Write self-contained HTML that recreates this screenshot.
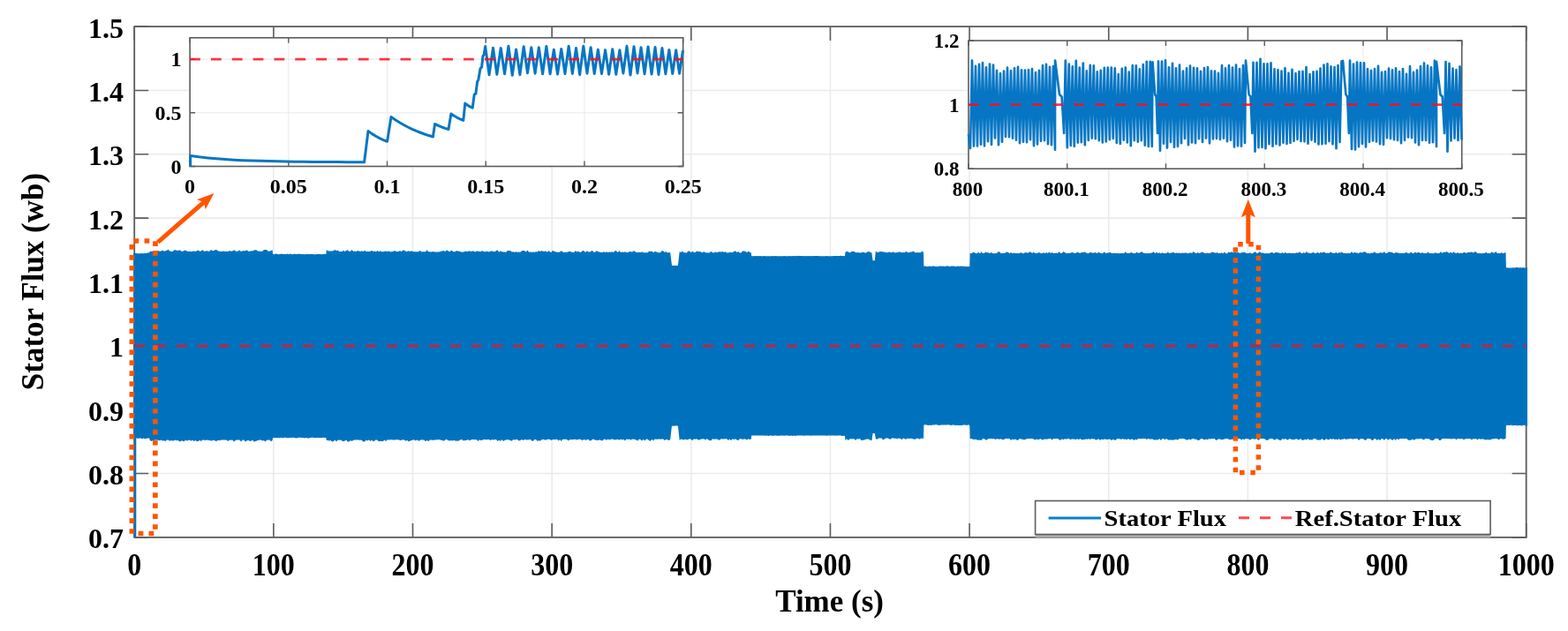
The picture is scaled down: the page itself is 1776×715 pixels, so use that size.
<!DOCTYPE html>
<html><head><meta charset="utf-8"><title>Stator Flux</title>
<style>html,body{margin:0;padding:0;background:#fff;}svg{display:block;}</style>
</head><body><svg width="1776" height="715" viewBox="0 0 1776 715"><rect x="0" y="0" width="1776" height="715" fill="#ffffff"/><path d="M309.85 30.10V608.90M467.50 30.10V608.90M625.15 30.10V608.90M782.80 30.10V608.90M940.45 30.10V608.90M1098.10 30.10V608.90M1255.75 30.10V608.90M1413.40 30.10V608.90M1571.05 30.10V608.90M152.20 536.55H1728.70M152.20 464.20H1728.70M152.20 391.85H1728.70M152.20 319.50H1728.70M152.20 247.15H1728.70M152.20 174.80H1728.70M152.20 102.45H1728.70" stroke="#ebebeb" stroke-width="1.6" fill="none"/><path d="M152.20 608.90v-16M152.20 30.10v16M309.85 608.90v-16M309.85 30.10v16M467.50 608.90v-16M467.50 30.10v16M625.15 608.90v-16M625.15 30.10v16M782.80 608.90v-16M782.80 30.10v16M940.45 608.90v-16M940.45 30.10v16M1098.10 608.90v-16M1098.10 30.10v16M1255.75 608.90v-16M1255.75 30.10v16M1413.40 608.90v-16M1413.40 30.10v16M1571.05 608.90v-16M1571.05 30.10v16M1728.70 608.90v-16M1728.70 30.10v16M152.20 608.90h16M1728.70 608.90h-16M152.20 536.55h16M1728.70 536.55h-16M152.20 464.20h16M1728.70 464.20h-16M152.20 391.85h16M1728.70 391.85h-16M152.20 319.50h16M1728.70 319.50h-16M152.20 247.15h16M1728.70 247.15h-16M152.20 174.80h16M1728.70 174.80h-16M152.20 102.45h16M1728.70 102.45h-16M152.20 30.10h16M1728.70 30.10h-16" stroke="#5c5c5c" stroke-width="1.6" fill="none"/><rect x="152.20" y="30.10" width="1576.50" height="578.80" stroke="#5c5c5c" stroke-width="1.8" fill="none"/><path d="M151.0 287.2 L152.7 286.8 L154.3 287.0 L156.0 287.3 L157.6 287.3 L159.3 287.3 L160.9 287.1 L162.6 287.3 L164.2 286.8 L165.9 286.9 L167.5 286.2 L169.2 286.4 L169.6 284.8 L171.2 284.7 L172.8 284.8 L174.4 284.0 L176.1 284.2 L177.7 284.9 L179.3 283.9 L180.9 284.7 L182.5 284.4 L184.1 283.5 L185.8 284.7 L187.4 284.3 L189.0 283.7 L190.6 282.8 L192.2 284.5 L193.8 284.8 L195.5 284.9 L197.1 283.6 L198.7 283.2 L200.3 283.8 L201.9 284.1 L203.5 283.3 L205.2 284.4 L206.8 284.9 L208.4 283.9 L210.0 283.4 L211.6 284.5 L213.2 284.9 L214.9 284.8 L216.5 284.9 L218.1 284.8 L219.7 284.5 L221.3 284.9 L222.9 284.2 L224.6 283.4 L226.2 284.7 L227.8 284.6 L229.4 282.9 L231.0 284.8 L232.6 284.8 L234.3 284.1 L235.9 284.9 L237.5 284.6 L239.1 282.9 L240.7 284.3 L242.3 283.9 L243.9 283.1 L245.6 283.2 L247.2 284.5 L248.8 284.8 L250.4 284.9 L252.0 284.8 L253.6 284.6 L255.3 284.9 L256.9 284.8 L258.5 284.9 L260.1 284.0 L261.7 284.7 L263.3 284.6 L265.0 283.3 L266.6 284.4 L268.2 284.9 L269.8 284.6 L271.4 283.4 L273.0 284.9 L274.7 284.3 L276.3 284.2 L277.9 284.3 L279.5 283.2 L281.1 284.7 L282.7 284.8 L284.4 284.2 L286.0 284.6 L287.6 283.4 L289.2 283.3 L290.8 283.4 L292.4 284.8 L294.1 284.6 L295.7 284.9 L297.3 284.7 L298.9 282.9 L300.5 282.9 L302.1 282.9 L303.8 284.8 L305.4 284.8 L307.0 284.0 L308.6 283.3 L309.0 287.8 L310.6 288.2 L312.3 287.5 L313.9 287.7 L315.5 288.2 L317.2 288.1 L318.8 287.4 L320.4 288.1 L322.1 287.8 L323.7 288.2 L325.3 287.5 L327.0 288.2 L328.6 287.4 L330.2 288.1 L331.9 288.2 L333.5 287.4 L335.1 288.0 L336.8 288.0 L338.4 287.6 L340.0 288.1 L341.6 288.1 L343.3 288.1 L344.9 288.2 L346.5 288.1 L348.2 287.9 L349.8 288.0 L351.4 288.0 L353.1 288.0 L354.7 288.0 L356.3 288.2 L358.0 288.2 L359.6 287.8 L361.2 288.1 L362.9 287.9 L364.5 288.2 L366.1 288.1 L367.8 287.7 L369.4 287.9 L369.8 283.1 L371.4 284.2 L373.0 284.4 L374.6 284.5 L376.2 284.5 L377.8 283.9 L379.4 283.1 L381.0 284.3 L382.6 283.5 L384.2 285.0 L385.8 285.0 L387.4 285.0 L389.0 283.7 L390.6 285.0 L392.2 284.1 L393.8 283.3 L395.4 285.0 L397.0 284.7 L398.6 282.9 L400.2 285.0 L401.8 284.5 L403.5 285.0 L405.1 283.9 L406.7 284.4 L408.3 285.1 L409.9 284.3 L411.5 285.1 L413.1 283.8 L414.7 285.1 L416.3 285.1 L417.9 285.0 L419.5 284.8 L421.1 283.7 L422.7 285.1 L424.3 284.4 L425.9 285.2 L427.5 284.1 L429.1 285.2 L430.7 284.3 L432.3 285.2 L433.9 285.2 L435.5 284.8 L437.1 284.5 L438.7 285.1 L440.3 284.6 L441.9 285.2 L443.5 285.2 L445.1 285.0 L446.7 284.0 L448.3 284.7 L449.9 285.0 L451.5 285.1 L453.1 284.1 L454.7 285.2 L456.3 283.4 L457.9 283.8 L459.5 284.8 L461.1 285.0 L462.7 284.3 L464.3 285.1 L465.9 284.2 L467.6 285.0 L469.2 285.3 L470.8 285.3 L472.4 285.2 L474.0 285.3 L475.6 283.7 L477.2 285.2 L478.8 285.2 L480.4 285.3 L482.0 285.2 L483.6 283.3 L485.2 285.3 L486.8 285.2 L488.4 285.4 L490.0 284.9 L491.6 285.3 L493.2 285.4 L494.8 285.4 L496.4 285.4 L498.0 285.2 L499.6 284.7 L501.2 284.2 L502.8 284.3 L504.4 285.1 L506.0 283.3 L507.6 284.3 L509.2 285.5 L510.8 283.7 L512.4 284.3 L514.0 285.4 L515.6 284.9 L517.2 284.1 L518.8 284.8 L520.4 284.5 L522.0 285.4 L523.6 285.5 L525.2 285.5 L526.8 284.8 L528.4 284.7 L530.0 285.0 L531.6 284.2 L533.3 285.0 L534.9 284.6 L536.5 284.4 L538.1 285.6 L539.7 284.4 L541.3 284.4 L542.9 285.1 L544.5 285.1 L546.1 284.3 L547.7 284.7 L549.3 285.6 L550.9 284.4 L552.5 284.9 L554.1 285.6 L555.7 284.6 L557.3 284.6 L558.9 285.1 L560.5 285.2 L562.1 283.9 L563.7 283.6 L565.3 285.7 L566.9 284.2 L568.5 285.2 L570.1 285.6 L571.7 285.6 L573.3 285.7 L574.9 283.7 L576.5 284.2 L578.1 284.0 L579.7 285.6 L581.3 285.2 L582.9 285.7 L584.5 285.3 L586.1 285.7 L587.7 285.5 L589.3 285.8 L590.9 284.2 L592.5 283.9 L594.1 284.0 L595.7 285.5 L597.4 283.6 L599.0 285.5 L600.6 285.6 L602.2 285.8 L603.8 285.6 L605.4 285.7 L607.0 285.2 L608.6 285.5 L610.2 284.1 L611.8 285.0 L613.4 283.9 L615.0 284.7 L616.6 284.7 L618.2 284.6 L619.8 285.7 L621.4 284.0 L623.0 285.4 L624.6 285.7 L626.2 283.8 L627.8 285.0 L629.4 285.2 L631.0 285.8 L632.6 285.8 L634.2 285.4 L635.8 284.1 L637.4 285.5 L639.0 285.9 L640.6 285.7 L642.2 285.8 L643.8 285.2 L645.4 284.7 L647.0 285.6 L648.6 285.7 L650.2 286.0 L651.8 283.9 L653.4 285.4 L655.0 284.4 L656.6 285.8 L658.2 285.7 L659.8 284.0 L661.4 284.3 L663.1 286.0 L664.7 284.3 L666.3 285.3 L667.9 285.7 L669.5 284.5 L671.1 284.0 L672.7 286.0 L674.3 285.5 L675.9 284.1 L677.5 285.2 L679.1 285.6 L680.7 286.1 L682.3 286.0 L683.9 285.2 L685.5 286.1 L687.1 285.2 L688.7 286.1 L690.3 285.5 L691.9 285.8 L693.5 285.3 L695.1 285.9 L696.7 284.1 L698.3 284.4 L699.9 286.0 L701.5 284.1 L703.1 286.0 L704.7 285.6 L706.3 285.8 L707.9 285.2 L709.5 286.1 L711.1 285.9 L712.7 285.2 L714.3 284.8 L715.9 285.7 L717.5 284.2 L719.1 284.7 L720.7 286.1 L722.3 286.0 L723.9 285.7 L725.5 286.1 L727.2 285.3 L728.8 286.2 L730.4 286.2 L732.0 286.2 L733.6 286.3 L735.2 284.5 L736.8 285.1 L738.4 284.4 L740.0 286.2 L741.6 285.1 L743.2 285.3 L744.8 286.0 L746.4 286.3 L748.0 286.2 L749.6 284.3 L751.2 284.3 L752.8 286.1 L754.4 284.9 L756.0 286.4 L757.6 286.1 L759.2 286.3 L761.0 300.7 L762.7 301.0 L764.5 300.8 L766.2 301.0 L767.9 300.7 L769.7 285.1 L771.3 286.1 L772.9 284.4 L774.6 286.2 L776.2 286.2 L777.8 286.4 L779.4 284.5 L781.1 284.4 L782.7 286.3 L784.3 284.4 L785.9 286.1 L787.5 286.0 L789.2 284.5 L790.8 285.0 L792.4 284.9 L794.0 285.6 L795.7 286.2 L797.3 285.1 L798.9 286.3 L800.5 286.3 L802.1 286.4 L803.8 286.2 L805.4 284.7 L807.0 286.3 L808.6 286.4 L810.2 285.3 L811.9 286.3 L813.5 285.6 L815.1 285.2 L816.7 285.5 L818.4 284.9 L820.0 285.7 L821.6 285.2 L823.2 286.3 L824.8 286.4 L826.5 285.7 L828.1 286.1 L829.7 285.9 L831.3 285.0 L833.0 284.3 L834.6 286.0 L836.2 284.9 L837.8 286.5 L839.4 286.4 L841.1 284.4 L842.7 284.6 L844.3 284.8 L845.9 286.3 L847.6 284.5 L849.2 285.7 L850.8 286.4 L851.2 290.3 L852.8 290.2 L854.4 290.1 L856.0 290.3 L857.6 290.0 L859.2 290.2 L860.8 290.0 L862.4 290.3 L864.0 290.2 L865.6 290.1 L867.2 290.3 L868.8 290.2 L870.4 290.2 L872.0 290.2 L873.6 290.2 L875.2 289.9 L876.8 290.2 L878.5 290.0 L880.1 290.3 L881.7 290.2 L883.3 290.2 L884.9 290.2 L886.5 290.3 L888.1 290.1 L889.7 290.3 L891.3 290.2 L892.9 290.3 L894.5 290.1 L896.1 290.3 L897.7 290.0 L899.3 290.3 L900.9 289.8 L902.5 290.2 L904.1 289.8 L905.7 289.9 L907.3 289.9 L908.9 290.0 L910.5 290.2 L912.1 289.9 L913.7 290.3 L915.3 290.1 L916.9 290.3 L918.5 290.0 L920.1 290.3 L921.7 290.0 L923.3 289.9 L924.9 290.1 L926.5 290.1 L928.1 290.2 L929.7 290.2 L931.4 290.2 L933.0 290.3 L934.6 290.2 L936.2 290.0 L937.8 290.2 L939.4 290.2 L941.0 290.3 L942.6 290.3 L944.2 290.1 L945.8 290.1 L947.4 290.0 L949.0 290.1 L950.6 290.1 L952.2 289.8 L953.8 289.9 L955.4 290.0 L957.0 290.3 L957.4 285.9 L959.1 284.7 L960.7 285.2 L962.4 286.4 L964.1 285.3 L965.7 284.8 L967.4 285.1 L969.1 285.9 L970.7 286.3 L972.4 285.9 L974.1 286.4 L975.7 286.3 L977.4 285.5 L979.1 286.3 L980.7 286.4 L982.4 285.6 L984.1 284.9 L985.7 285.7 L987.4 286.4 L988.6 295.3 L990.8 295.2 L991.9 284.2 L993.5 285.9 L995.2 285.8 L996.8 285.1 L998.5 284.9 L1000.1 285.4 L1001.7 285.5 L1003.4 286.0 L1005.0 286.2 L1006.7 285.4 L1008.3 285.7 L1009.9 286.2 L1011.6 285.3 L1013.2 286.2 L1014.9 286.2 L1016.5 286.1 L1018.1 285.5 L1019.8 285.4 L1021.4 286.2 L1023.0 286.1 L1024.7 286.2 L1026.3 284.7 L1028.0 285.9 L1029.6 286.2 L1031.2 285.6 L1032.9 285.4 L1034.5 284.4 L1036.2 286.1 L1037.8 286.2 L1039.4 285.9 L1041.1 286.2 L1042.7 286.2 L1044.4 284.4 L1046.0 286.1 L1046.4 301.8 L1048.0 301.5 L1049.6 301.9 L1051.3 302.0 L1052.9 301.5 L1054.5 302.0 L1056.1 301.5 L1057.8 301.5 L1059.4 301.9 L1061.0 301.9 L1062.6 301.9 L1064.2 301.6 L1065.9 301.6 L1067.5 301.7 L1069.1 301.5 L1070.7 301.9 L1072.3 301.2 L1074.0 301.4 L1075.6 301.9 L1077.2 301.5 L1078.8 301.5 L1080.5 301.4 L1082.1 301.9 L1083.7 301.7 L1085.3 301.6 L1086.9 301.8 L1088.6 301.6 L1090.2 301.8 L1091.8 301.7 L1093.4 301.9 L1095.1 302.0 L1096.7 302.0 L1098.3 302.0 L1098.7 286.9 L1100.3 287.2 L1101.9 286.1 L1103.5 286.1 L1105.1 287.2 L1106.7 286.9 L1108.3 285.7 L1109.9 287.2 L1111.5 285.3 L1113.1 287.1 L1114.7 287.1 L1116.3 285.6 L1117.9 286.3 L1119.5 286.3 L1121.1 287.1 L1122.7 285.9 L1124.3 286.9 L1125.9 287.2 L1127.5 287.0 L1129.1 286.9 L1130.7 285.1 L1132.3 285.6 L1133.9 287.2 L1135.5 286.8 L1137.1 286.9 L1138.7 286.5 L1140.3 285.5 L1141.9 285.7 L1143.5 287.2 L1145.1 285.9 L1146.7 287.2 L1148.3 286.6 L1149.9 287.1 L1151.5 286.9 L1153.1 287.0 L1154.7 287.0 L1156.3 286.1 L1157.9 287.1 L1159.5 287.2 L1161.1 286.1 L1162.7 286.3 L1164.3 286.8 L1165.9 285.4 L1167.5 285.4 L1169.1 287.1 L1170.7 285.4 L1172.3 286.9 L1173.9 287.0 L1175.6 286.5 L1177.2 285.9 L1178.8 286.9 L1180.4 287.1 L1182.0 286.2 L1183.6 287.1 L1185.2 285.9 L1186.8 287.1 L1188.4 285.4 L1190.0 287.1 L1191.6 286.1 L1193.2 287.1 L1194.8 287.0 L1196.4 286.6 L1198.0 286.9 L1199.6 285.1 L1201.2 287.1 L1202.8 287.1 L1204.4 285.0 L1206.0 286.0 L1207.6 287.1 L1209.2 287.1 L1210.8 286.8 L1212.4 286.8 L1214.0 286.1 L1215.6 286.3 L1217.2 287.1 L1218.8 286.8 L1220.4 285.4 L1222.0 286.4 L1223.6 286.8 L1225.2 286.0 L1226.8 285.9 L1228.4 285.6 L1230.0 286.3 L1231.6 287.0 L1233.2 287.1 L1234.8 285.8 L1236.4 286.3 L1238.0 286.8 L1239.6 286.3 L1241.2 286.2 L1242.8 287.1 L1244.4 285.8 L1246.0 286.6 L1247.6 287.2 L1249.2 287.1 L1250.8 285.2 L1252.4 287.1 L1254.0 286.5 L1255.6 286.6 L1257.2 285.7 L1258.8 286.8 L1260.4 287.1 L1262.0 286.8 L1263.6 287.1 L1265.2 286.9 L1266.8 287.0 L1268.4 287.2 L1270.0 286.8 L1271.6 286.9 L1273.2 287.1 L1274.8 285.2 L1276.4 287.1 L1278.0 286.8 L1279.6 287.1 L1281.2 285.7 L1282.8 286.7 L1284.4 287.1 L1286.0 286.9 L1287.6 285.7 L1289.2 286.7 L1290.8 286.5 L1292.4 285.6 L1294.0 285.6 L1295.6 286.9 L1297.2 286.8 L1298.8 287.2 L1300.4 287.0 L1302.0 287.0 L1303.6 286.8 L1305.2 286.2 L1306.8 285.3 L1308.4 287.2 L1310.0 285.4 L1311.6 287.1 L1313.2 286.3 L1314.8 287.2 L1316.4 286.2 L1318.0 287.1 L1319.6 287.0 L1321.2 286.9 L1322.8 285.4 L1324.4 287.1 L1326.0 286.4 L1327.7 286.2 L1329.3 285.8 L1330.9 287.1 L1332.5 286.6 L1334.1 286.7 L1335.7 286.5 L1337.3 287.0 L1338.9 286.6 L1340.5 286.7 L1342.1 286.6 L1343.7 286.5 L1345.3 287.2 L1346.9 286.7 L1348.5 286.2 L1350.1 286.9 L1351.7 285.1 L1353.3 286.3 L1354.9 287.2 L1356.5 286.1 L1358.1 286.9 L1359.7 286.6 L1361.3 285.4 L1362.9 286.0 L1364.5 286.9 L1366.1 286.9 L1367.7 286.6 L1369.3 287.1 L1370.9 286.8 L1372.5 285.7 L1374.1 285.7 L1375.7 286.6 L1377.3 286.6 L1378.9 286.2 L1380.5 286.9 L1382.1 287.0 L1383.7 286.3 L1385.3 287.2 L1386.9 285.4 L1388.5 287.2 L1390.1 287.2 L1391.7 285.3 L1393.3 286.2 L1394.9 285.3 L1396.5 286.3 L1398.1 286.1 L1399.7 286.1 L1401.3 286.2 L1402.9 285.9 L1404.5 287.1 L1406.1 285.9 L1407.7 286.2 L1409.3 285.7 L1410.9 286.5 L1412.5 287.0 L1414.1 286.9 L1415.7 286.3 L1417.3 287.2 L1418.9 287.2 L1420.5 285.7 L1422.1 285.3 L1423.7 287.2 L1425.3 286.4 L1426.9 285.1 L1428.5 286.8 L1430.1 286.3 L1431.7 287.1 L1433.3 287.2 L1434.9 287.1 L1436.5 287.2 L1438.1 287.1 L1439.7 286.0 L1441.3 286.0 L1442.9 287.2 L1444.5 286.0 L1446.1 286.0 L1447.7 286.3 L1449.3 286.7 L1450.9 287.0 L1452.5 286.0 L1454.1 287.2 L1455.7 285.7 L1457.3 287.0 L1458.9 287.1 L1460.5 286.6 L1462.1 286.9 L1463.7 286.7 L1465.3 287.1 L1466.9 286.9 L1468.5 286.3 L1470.1 286.8 L1471.7 285.2 L1473.3 286.5 L1474.9 287.2 L1476.5 286.1 L1478.2 286.9 L1479.8 285.1 L1481.4 286.4 L1483.0 286.8 L1484.6 286.9 L1486.2 286.4 L1487.8 285.7 L1489.4 287.2 L1491.0 286.8 L1492.6 285.7 L1494.2 287.2 L1495.8 285.7 L1497.4 286.5 L1499.0 285.6 L1500.6 286.1 L1502.2 286.9 L1503.8 286.5 L1505.4 287.1 L1507.0 285.3 L1508.6 286.4 L1510.2 286.7 L1511.8 287.0 L1513.4 285.8 L1515.0 287.2 L1516.6 285.9 L1518.2 286.4 L1519.8 285.4 L1521.4 286.7 L1523.0 287.1 L1524.6 287.1 L1526.2 286.9 L1527.8 286.8 L1529.4 287.1 L1531.0 285.0 L1532.6 287.1 L1534.2 285.8 L1535.8 286.4 L1537.4 286.6 L1539.0 287.2 L1540.6 285.5 L1542.2 286.5 L1543.8 285.8 L1545.4 285.2 L1547.0 285.7 L1548.6 287.0 L1550.2 287.1 L1551.8 287.2 L1553.4 286.5 L1555.0 286.7 L1556.6 285.3 L1558.2 286.4 L1559.8 287.1 L1561.4 287.0 L1563.0 286.3 L1564.6 286.2 L1566.2 286.7 L1567.8 285.1 L1569.4 287.1 L1571.0 287.0 L1572.6 285.4 L1574.2 285.6 L1575.8 285.8 L1577.4 286.2 L1579.0 287.2 L1580.6 285.9 L1582.2 286.2 L1583.8 286.4 L1585.4 287.1 L1587.0 287.0 L1588.6 286.7 L1590.2 287.0 L1591.8 286.2 L1593.4 286.0 L1595.0 287.2 L1596.6 287.1 L1598.2 285.5 L1599.8 287.1 L1601.4 287.1 L1603.0 285.6 L1604.6 286.7 L1606.2 285.7 L1607.8 286.3 L1609.4 287.1 L1611.0 286.0 L1612.6 287.1 L1614.2 287.0 L1615.8 287.1 L1617.4 285.6 L1619.0 287.1 L1620.6 286.9 L1622.2 287.1 L1623.8 287.2 L1625.4 286.2 L1627.0 286.7 L1628.6 287.0 L1630.3 286.9 L1631.9 285.0 L1633.5 287.1 L1635.1 285.4 L1636.7 286.0 L1638.3 285.1 L1639.9 285.7 L1641.5 287.1 L1643.1 285.6 L1644.7 287.1 L1646.3 285.3 L1647.9 286.5 L1649.5 287.1 L1651.1 286.1 L1652.7 287.2 L1654.3 286.4 L1655.9 287.0 L1657.5 286.3 L1659.1 285.7 L1660.7 287.1 L1662.3 286.0 L1663.9 286.0 L1665.5 285.7 L1667.1 285.6 L1668.7 286.6 L1670.3 285.3 L1671.9 285.5 L1673.5 287.1 L1675.1 286.9 L1676.7 286.9 L1678.3 287.2 L1679.9 286.7 L1681.5 287.1 L1683.1 285.7 L1684.7 286.9 L1686.3 286.8 L1687.9 287.2 L1689.5 285.2 L1691.1 286.6 L1692.7 286.5 L1694.3 285.1 L1695.9 287.1 L1697.5 287.0 L1699.1 287.2 L1700.7 286.1 L1702.3 287.2 L1703.9 286.4 L1705.5 286.1 L1705.9 303.0 L1707.5 303.6 L1709.1 303.4 L1710.7 303.5 L1712.3 303.4 L1713.9 303.3 L1715.5 303.6 L1717.1 303.1 L1718.8 303.0 L1720.4 303.5 L1722.0 303.0 L1723.6 303.5 L1725.2 303.1 L1726.8 303.5 L1728.4 303.4 L1730.0 303.1 L1730.0 482.4 L1728.4 482.5 L1726.8 481.8 L1725.2 481.8 L1723.6 482.4 L1722.0 481.9 L1720.4 481.9 L1718.8 482.4 L1717.1 481.7 L1715.5 482.0 L1713.9 482.3 L1712.3 481.7 L1710.7 481.7 L1709.1 481.9 L1707.5 481.7 L1705.9 482.1 L1705.5 497.0 L1703.9 497.5 L1702.3 497.7 L1700.7 497.0 L1699.1 497.0 L1697.5 498.4 L1695.9 497.0 L1694.3 497.0 L1692.7 496.9 L1691.1 497.5 L1689.5 497.5 L1687.9 498.6 L1686.3 498.2 L1684.7 498.0 L1683.1 498.6 L1681.5 498.1 L1679.9 497.5 L1678.3 497.5 L1676.7 497.7 L1675.1 497.0 L1673.5 498.5 L1671.9 497.1 L1670.3 497.4 L1668.7 496.9 L1667.1 498.6 L1665.5 497.2 L1663.9 496.9 L1662.3 497.3 L1660.7 496.9 L1659.1 497.7 L1657.5 498.0 L1655.9 497.0 L1654.3 497.5 L1652.7 496.9 L1651.1 497.0 L1649.5 498.2 L1647.9 497.0 L1646.3 497.0 L1644.7 497.3 L1643.1 497.5 L1641.5 496.9 L1639.9 497.2 L1638.3 496.9 L1636.7 497.1 L1635.1 496.9 L1633.5 497.1 L1631.9 498.8 L1630.3 499.1 L1628.6 497.0 L1627.0 497.1 L1625.4 497.0 L1623.8 498.7 L1622.2 499.0 L1620.6 498.7 L1619.0 497.5 L1617.4 497.2 L1615.8 497.1 L1614.2 497.3 L1612.6 498.6 L1611.0 497.6 L1609.4 496.9 L1607.8 497.0 L1606.2 497.4 L1604.6 497.2 L1603.0 497.8 L1601.4 498.8 L1599.8 497.4 L1598.2 498.7 L1596.6 498.8 L1595.0 498.8 L1593.4 497.0 L1591.8 496.9 L1590.2 497.0 L1588.6 497.0 L1587.0 497.0 L1585.4 497.2 L1583.8 498.2 L1582.2 497.1 L1580.6 498.9 L1579.0 497.0 L1577.4 499.1 L1575.8 498.0 L1574.2 496.9 L1572.6 498.7 L1571.0 497.2 L1569.4 496.9 L1567.8 499.1 L1566.2 497.0 L1564.6 497.3 L1563.0 498.9 L1561.4 497.6 L1559.8 499.0 L1558.2 497.3 L1556.6 496.9 L1555.0 498.9 L1553.4 498.6 L1551.8 496.9 L1550.2 497.0 L1548.6 496.9 L1547.0 499.0 L1545.4 498.2 L1543.8 497.3 L1542.2 497.1 L1540.6 497.5 L1539.0 499.1 L1537.4 496.9 L1535.8 497.2 L1534.2 497.0 L1532.6 497.8 L1531.0 497.2 L1529.4 496.9 L1527.8 497.5 L1526.2 497.6 L1524.6 498.0 L1523.0 497.0 L1521.4 497.7 L1519.8 497.5 L1518.2 498.7 L1516.6 497.0 L1515.0 498.4 L1513.4 497.4 L1511.8 498.2 L1510.2 497.0 L1508.6 497.9 L1507.0 497.1 L1505.4 498.2 L1503.8 498.3 L1502.2 496.9 L1500.6 498.8 L1499.0 498.4 L1497.4 497.1 L1495.8 498.6 L1494.2 498.5 L1492.6 498.7 L1491.0 497.7 L1489.4 497.1 L1487.8 497.1 L1486.2 498.7 L1484.6 498.0 L1483.0 498.7 L1481.4 497.1 L1479.8 498.5 L1478.2 497.7 L1476.5 498.4 L1474.9 499.0 L1473.3 497.1 L1471.7 498.3 L1470.1 498.3 L1468.5 497.3 L1466.9 497.8 L1465.3 498.3 L1463.7 497.9 L1462.1 497.7 L1460.5 496.9 L1458.9 498.6 L1457.3 498.1 L1455.7 496.9 L1454.1 497.9 L1452.5 496.9 L1450.9 499.0 L1449.3 498.8 L1447.7 498.0 L1446.1 496.9 L1444.5 498.5 L1442.9 498.2 L1441.3 497.0 L1439.7 497.1 L1438.1 496.9 L1436.5 498.6 L1434.9 499.0 L1433.3 498.0 L1431.7 496.9 L1430.1 497.0 L1428.5 497.0 L1426.9 497.4 L1425.3 498.9 L1423.7 497.3 L1422.1 497.4 L1420.5 497.7 L1418.9 497.0 L1417.3 497.6 L1415.7 498.8 L1414.1 497.3 L1412.5 497.3 L1410.9 497.1 L1409.3 498.3 L1407.7 497.2 L1406.1 498.8 L1404.5 496.9 L1402.9 497.0 L1401.3 497.4 L1399.7 497.0 L1398.1 497.7 L1396.5 497.8 L1394.9 497.8 L1393.3 498.3 L1391.7 497.7 L1390.1 497.0 L1388.5 497.1 L1386.9 497.6 L1385.3 498.1 L1383.7 498.3 L1382.1 497.7 L1380.5 497.2 L1378.9 498.3 L1377.3 499.0 L1375.7 497.1 L1374.1 497.3 L1372.5 497.1 L1370.9 497.6 L1369.3 497.3 L1367.7 498.2 L1366.1 497.4 L1364.5 498.6 L1362.9 497.8 L1361.3 496.9 L1359.7 497.4 L1358.1 499.1 L1356.5 498.8 L1354.9 497.7 L1353.3 497.8 L1351.7 496.9 L1350.1 497.3 L1348.5 498.5 L1346.9 497.6 L1345.3 498.5 L1343.7 498.6 L1342.1 497.5 L1340.5 497.0 L1338.9 496.9 L1337.3 497.0 L1335.7 497.1 L1334.1 498.6 L1332.5 498.1 L1330.9 498.0 L1329.3 498.5 L1327.7 498.7 L1326.0 498.3 L1324.4 498.7 L1322.8 498.3 L1321.2 497.0 L1319.6 498.3 L1318.0 497.0 L1316.4 497.1 L1314.8 498.9 L1313.2 496.9 L1311.6 498.5 L1310.0 498.3 L1308.4 498.4 L1306.8 498.5 L1305.2 497.2 L1303.6 497.8 L1302.0 497.4 L1300.4 497.1 L1298.8 498.1 L1297.2 497.0 L1295.6 497.1 L1294.0 497.1 L1292.4 497.2 L1290.8 497.0 L1289.2 497.1 L1287.6 498.4 L1286.0 497.8 L1284.4 499.0 L1282.8 497.6 L1281.2 497.8 L1279.6 498.3 L1278.0 497.0 L1276.4 498.3 L1274.8 497.5 L1273.2 498.1 L1271.6 497.1 L1270.0 498.0 L1268.4 497.3 L1266.8 497.3 L1265.2 496.9 L1263.6 499.1 L1262.0 498.2 L1260.4 498.0 L1258.8 498.9 L1257.2 497.5 L1255.6 497.8 L1254.0 498.1 L1252.4 497.7 L1250.8 497.5 L1249.2 498.3 L1247.6 497.6 L1246.0 499.0 L1244.4 497.3 L1242.8 497.9 L1241.2 498.8 L1239.6 497.3 L1238.0 497.4 L1236.4 497.1 L1234.8 498.0 L1233.2 497.3 L1231.6 497.8 L1230.0 497.4 L1228.4 497.9 L1226.8 498.0 L1225.2 498.6 L1223.6 497.0 L1222.0 498.2 L1220.4 497.3 L1218.8 498.1 L1217.2 497.7 L1215.6 497.4 L1214.0 497.5 L1212.4 498.3 L1210.8 496.9 L1209.2 497.0 L1207.6 497.8 L1206.0 497.3 L1204.4 498.3 L1202.8 497.3 L1201.2 499.0 L1199.6 498.1 L1198.0 497.0 L1196.4 497.0 L1194.8 497.2 L1193.2 497.0 L1191.6 498.5 L1190.0 497.1 L1188.4 497.1 L1186.8 497.4 L1185.2 497.7 L1183.6 497.4 L1182.0 498.1 L1180.4 498.5 L1178.8 497.2 L1177.2 497.8 L1175.6 498.2 L1173.9 497.4 L1172.3 498.6 L1170.7 497.5 L1169.1 497.1 L1167.5 496.9 L1165.9 496.9 L1164.3 497.3 L1162.7 497.2 L1161.1 498.3 L1159.5 498.3 L1157.9 497.8 L1156.3 497.5 L1154.7 497.0 L1153.1 498.9 L1151.5 498.5 L1149.9 497.5 L1148.3 498.3 L1146.7 497.5 L1145.1 499.0 L1143.5 497.0 L1141.9 497.0 L1140.3 496.9 L1138.7 497.0 L1137.1 498.0 L1135.5 498.2 L1133.9 497.3 L1132.3 497.8 L1130.7 497.5 L1129.1 497.2 L1127.5 498.1 L1125.9 497.1 L1124.3 497.3 L1122.7 497.0 L1121.1 497.0 L1119.5 497.1 L1117.9 498.4 L1116.3 498.4 L1114.7 496.9 L1113.1 497.0 L1111.5 498.9 L1109.9 498.6 L1108.3 498.7 L1106.7 498.4 L1105.1 497.7 L1103.5 498.1 L1101.9 497.8 L1100.3 496.9 L1098.7 497.0 L1098.3 482.0 L1096.7 481.3 L1095.1 482.0 L1093.4 481.6 L1091.8 481.4 L1090.2 481.7 L1088.6 481.9 L1086.9 481.9 L1085.3 482.1 L1083.7 481.7 L1082.1 482.0 L1080.5 481.4 L1078.8 481.4 L1077.2 482.0 L1075.6 481.4 L1074.0 481.3 L1072.3 481.4 L1070.7 481.6 L1069.1 481.5 L1067.5 481.5 L1065.9 481.4 L1064.2 481.9 L1062.6 481.8 L1061.0 481.3 L1059.4 481.3 L1057.8 481.5 L1056.1 481.5 L1054.5 481.9 L1052.9 481.7 L1051.3 482.0 L1049.6 481.4 L1048.0 481.3 L1046.4 481.6 L1046.0 497.2 L1044.4 496.5 L1042.7 497.1 L1041.1 497.7 L1039.4 496.6 L1037.8 497.1 L1036.2 498.1 L1034.5 497.6 L1032.9 496.9 L1031.2 496.7 L1029.6 497.3 L1028.0 496.6 L1026.3 497.7 L1024.7 497.3 L1023.0 496.5 L1021.4 498.3 L1019.8 497.0 L1018.1 496.6 L1016.5 497.2 L1014.9 496.8 L1013.2 496.8 L1011.6 496.5 L1009.9 496.6 L1008.3 498.1 L1006.7 496.9 L1005.0 496.5 L1003.4 496.5 L1001.7 497.4 L1000.1 498.4 L998.5 496.6 L996.8 496.5 L995.2 496.6 L993.5 497.7 L991.9 497.2 L990.8 490.9 L988.6 490.9 L987.4 499.2 L985.7 498.8 L984.1 497.8 L982.4 497.5 L980.7 497.8 L979.1 498.4 L977.4 498.8 L975.7 499.0 L974.1 497.3 L972.4 497.4 L970.7 497.3 L969.1 498.9 L967.4 497.2 L965.7 497.4 L964.1 497.3 L962.4 497.4 L960.7 498.9 L959.1 497.3 L957.4 499.0 L957.0 493.9 L955.4 493.8 L953.8 493.9 L952.2 493.4 L950.6 493.5 L949.0 493.4 L947.4 493.7 L945.8 493.4 L944.2 493.4 L942.6 493.5 L941.0 493.5 L939.4 493.4 L937.8 493.4 L936.2 493.7 L934.6 493.5 L933.0 493.6 L931.4 493.5 L929.7 493.6 L928.1 493.6 L926.5 493.5 L924.9 493.6 L923.3 493.4 L921.7 493.4 L920.1 493.6 L918.5 493.8 L916.9 493.5 L915.3 493.5 L913.7 493.5 L912.1 493.4 L910.5 493.8 L908.9 493.4 L907.3 493.4 L905.7 493.6 L904.1 493.5 L902.5 493.4 L900.9 493.9 L899.3 493.4 L897.7 493.9 L896.1 493.5 L894.5 493.9 L892.9 493.5 L891.3 493.6 L889.7 493.6 L888.1 493.8 L886.5 493.6 L884.9 493.4 L883.3 493.8 L881.7 493.8 L880.1 493.8 L878.5 493.4 L876.8 493.4 L875.2 493.9 L873.6 493.5 L872.0 493.6 L870.4 493.9 L868.8 493.5 L867.2 493.7 L865.6 493.4 L864.0 493.6 L862.4 493.4 L860.8 493.6 L859.2 493.4 L857.6 493.4 L856.0 493.5 L854.4 493.4 L852.8 493.6 L851.2 493.4 L850.8 497.4 L849.2 498.0 L847.6 497.2 L845.9 498.5 L844.3 497.6 L842.7 497.4 L841.1 497.9 L839.4 497.2 L837.8 497.3 L836.2 499.0 L834.6 498.6 L833.0 497.2 L831.3 498.1 L829.7 497.3 L828.1 499.3 L826.5 497.4 L824.8 498.9 L823.2 497.3 L821.6 497.3 L820.0 497.5 L818.4 497.4 L816.7 497.2 L815.1 498.8 L813.5 498.2 L811.9 497.6 L810.2 497.6 L808.6 497.7 L807.0 497.2 L805.4 499.3 L803.8 499.3 L802.1 497.9 L800.5 497.2 L798.9 498.4 L797.3 497.2 L795.7 497.5 L794.0 497.4 L792.4 498.5 L790.8 498.4 L789.2 497.3 L787.5 497.7 L785.9 497.3 L784.3 499.2 L782.7 497.7 L781.1 497.2 L779.4 498.1 L777.8 498.5 L776.2 497.4 L774.6 498.4 L772.9 498.1 L771.3 497.4 L769.7 499.0 L767.9 482.5 L766.2 482.5 L764.5 482.5 L762.7 482.7 L761.0 482.5 L759.2 497.7 L757.6 499.3 L756.0 497.9 L754.4 497.9 L752.8 498.9 L751.2 497.5 L749.6 497.5 L748.0 497.7 L746.4 497.5 L744.8 497.7 L743.2 497.8 L741.6 497.5 L740.0 499.4 L738.4 497.7 L736.8 499.7 L735.2 499.2 L733.6 497.8 L732.0 497.5 L730.4 499.6 L728.8 497.8 L727.2 499.5 L725.5 497.9 L723.9 497.6 L722.3 499.5 L720.7 498.8 L719.1 497.7 L717.5 497.8 L715.9 497.6 L714.3 498.7 L712.7 497.6 L711.1 497.9 L709.5 497.6 L707.9 499.4 L706.3 497.7 L704.7 498.6 L703.1 497.6 L701.5 498.7 L699.9 497.7 L698.3 498.1 L696.7 498.5 L695.1 498.1 L693.5 497.6 L691.9 497.7 L690.3 498.4 L688.7 497.6 L687.1 498.7 L685.5 497.8 L683.9 497.8 L682.3 499.5 L680.7 499.0 L679.1 498.3 L677.5 498.9 L675.9 498.8 L674.3 498.7 L672.7 497.7 L671.1 497.8 L669.5 499.3 L667.9 499.6 L666.3 497.7 L664.7 498.2 L663.1 498.8 L661.4 497.7 L659.8 499.3 L658.2 498.1 L656.6 497.8 L655.0 497.8 L653.4 498.6 L651.8 497.7 L650.2 497.9 L648.6 498.0 L647.0 498.3 L645.4 498.1 L643.8 499.5 L642.2 497.9 L640.6 497.8 L639.0 497.8 L637.4 497.8 L635.8 499.9 L634.2 497.9 L632.6 499.6 L631.0 497.8 L629.4 498.1 L627.8 498.0 L626.2 497.9 L624.6 499.0 L623.0 498.0 L621.4 497.8 L619.8 497.8 L618.2 498.7 L616.6 498.2 L615.0 497.8 L613.4 498.5 L611.8 499.6 L610.2 499.3 L608.6 499.8 L607.0 497.9 L605.4 498.0 L603.8 499.8 L602.2 499.4 L600.6 497.8 L599.0 498.2 L597.4 498.6 L595.7 498.2 L594.1 498.0 L592.5 499.0 L590.9 497.9 L589.3 499.1 L587.7 499.4 L586.1 498.1 L584.5 498.1 L582.9 498.4 L581.3 497.9 L579.7 499.7 L578.1 499.0 L576.5 498.5 L574.9 497.9 L573.3 498.5 L571.7 498.7 L570.1 499.9 L568.5 498.1 L566.9 500.0 L565.3 498.4 L563.7 499.9 L562.1 498.0 L560.5 498.0 L558.9 498.4 L557.3 498.1 L555.7 499.0 L554.1 498.1 L552.5 498.0 L550.9 498.2 L549.3 498.1 L547.7 498.0 L546.1 498.8 L544.5 499.0 L542.9 498.3 L541.3 500.1 L539.7 498.1 L538.1 498.2 L536.5 498.1 L534.9 498.0 L533.3 498.6 L531.6 499.2 L530.0 498.0 L528.4 499.0 L526.8 498.9 L525.2 499.6 L523.6 498.3 L522.0 498.0 L520.4 499.1 L518.8 499.8 L517.2 499.6 L515.6 499.6 L514.0 498.7 L512.4 499.5 L510.8 498.9 L509.2 499.6 L507.6 499.0 L506.0 498.1 L504.4 498.3 L502.8 499.8 L501.2 499.0 L499.6 498.7 L498.0 498.2 L496.4 498.1 L494.8 498.5 L493.2 498.3 L491.6 498.7 L490.0 498.7 L488.4 498.4 L486.8 498.4 L485.2 500.2 L483.6 498.8 L482.0 500.2 L480.4 498.6 L478.8 498.6 L477.2 498.3 L475.6 499.1 L474.0 499.7 L472.4 498.2 L470.8 499.4 L469.2 498.2 L467.6 498.4 L465.9 499.1 L464.3 499.7 L462.7 500.3 L461.1 498.8 L459.5 499.7 L457.9 498.6 L456.3 498.2 L454.7 498.7 L453.1 498.9 L451.5 498.2 L449.9 498.2 L448.3 498.3 L446.7 498.4 L445.1 498.4 L443.5 498.3 L441.9 498.3 L440.3 498.4 L438.7 498.3 L437.1 500.1 L435.5 498.5 L433.9 499.9 L432.3 499.9 L430.7 499.7 L429.1 500.2 L427.5 498.7 L425.9 498.3 L424.3 499.4 L422.7 500.2 L421.1 498.4 L419.5 500.1 L417.9 498.3 L416.3 499.6 L414.7 498.5 L413.1 500.4 L411.5 500.5 L409.9 498.9 L408.3 498.6 L406.7 498.8 L405.1 498.3 L403.5 498.6 L401.8 498.6 L400.2 498.8 L398.6 499.9 L397.0 498.9 L395.4 500.4 L393.8 500.4 L392.2 498.4 L390.6 499.5 L389.0 500.2 L387.4 499.4 L385.8 498.5 L384.2 498.8 L382.6 498.4 L381.0 500.4 L379.4 498.6 L377.8 500.1 L376.2 500.4 L374.6 499.0 L373.0 499.5 L371.4 499.0 L369.8 498.9 L369.4 496.2 L367.8 495.9 L366.1 495.8 L364.5 496.0 L362.9 496.2 L361.2 495.9 L359.6 496.0 L358.0 495.9 L356.3 496.2 L354.7 495.7 L353.1 495.7 L351.4 495.9 L349.8 496.4 L348.2 496.4 L346.5 495.9 L344.9 496.4 L343.3 495.9 L341.6 496.0 L340.0 495.8 L338.4 495.8 L336.8 496.3 L335.1 496.4 L333.5 496.1 L331.9 495.7 L330.2 496.0 L328.6 496.1 L327.0 496.3 L325.3 496.2 L323.7 495.7 L322.1 495.7 L320.4 496.4 L318.8 495.8 L317.2 496.2 L315.5 496.2 L313.9 495.9 L312.3 496.2 L310.6 496.1 L309.0 496.2 L308.6 498.9 L307.0 500.2 L305.4 498.5 L303.8 498.5 L302.1 498.7 L300.5 500.6 L298.9 498.9 L297.3 499.5 L295.7 498.6 L294.1 498.4 L292.4 499.0 L290.8 499.6 L289.2 499.9 L287.6 500.6 L286.0 498.5 L284.4 499.8 L282.7 499.7 L281.1 498.7 L279.5 499.5 L277.9 500.5 L276.3 498.4 L274.7 498.5 L273.0 500.4 L271.4 498.5 L269.8 498.6 L268.2 498.5 L266.6 498.9 L265.0 500.6 L263.3 498.5 L261.7 498.7 L260.1 498.5 L258.5 500.1 L256.9 498.7 L255.3 498.5 L253.6 498.4 L252.0 498.5 L250.4 498.4 L248.8 499.3 L247.2 498.8 L245.6 499.8 L243.9 499.8 L242.3 498.4 L240.7 499.3 L239.1 499.5 L237.5 499.1 L235.9 498.8 L234.3 498.6 L232.6 498.9 L231.0 498.5 L229.4 498.5 L227.8 500.1 L226.2 498.8 L224.6 500.1 L222.9 500.1 L221.3 498.9 L219.7 500.1 L218.1 498.6 L216.5 499.7 L214.9 498.5 L213.2 498.9 L211.6 499.4 L210.0 498.6 L208.4 500.6 L206.8 499.5 L205.2 499.4 L203.5 500.4 L201.9 498.9 L200.3 499.2 L198.7 498.6 L197.1 499.2 L195.5 499.4 L193.8 499.0 L192.2 499.7 L190.6 498.5 L189.0 498.6 L187.4 500.1 L185.8 499.2 L184.1 499.5 L182.5 498.6 L180.9 499.2 L179.3 498.8 L177.7 498.5 L176.1 498.4 L174.4 498.7 L172.8 499.2 L171.2 499.9 L169.6 498.5 L169.2 496.6 L167.5 496.5 L165.9 496.7 L164.2 497.6 L162.6 496.5 L160.9 497.3 L159.3 496.5 L157.6 496.7 L156.0 496.8 L154.3 496.6 L152.7 496.5 L151.0 496.5Z" fill="#0072bd"/><path d="M153.00 608.90V287.19" stroke="#0072bd" stroke-width="2.6" fill="none"/><path d="M152.20 391.85H1728.70" stroke="#ff0a20" stroke-opacity="0.82" stroke-width="2.6" stroke-dasharray="11.8 12.04" fill="none"/><text x="140" y="621.30" text-anchor="end" font-family="'Liberation Serif', 'Times New Roman', serif" font-weight="bold" font-size="32">0.7</text><text x="140" y="548.95" text-anchor="end" font-family="'Liberation Serif', 'Times New Roman', serif" font-weight="bold" font-size="32">0.8</text><text x="140" y="476.60" text-anchor="end" font-family="'Liberation Serif', 'Times New Roman', serif" font-weight="bold" font-size="32">0.9</text><text x="140" y="404.25" text-anchor="end" font-family="'Liberation Serif', 'Times New Roman', serif" font-weight="bold" font-size="32">1</text><text x="140" y="331.90" text-anchor="end" font-family="'Liberation Serif', 'Times New Roman', serif" font-weight="bold" font-size="32">1.1</text><text x="140" y="259.55" text-anchor="end" font-family="'Liberation Serif', 'Times New Roman', serif" font-weight="bold" font-size="32">1.2</text><text x="140" y="187.20" text-anchor="end" font-family="'Liberation Serif', 'Times New Roman', serif" font-weight="bold" font-size="32">1.3</text><text x="140" y="114.85" text-anchor="end" font-family="'Liberation Serif', 'Times New Roman', serif" font-weight="bold" font-size="32">1.4</text><text x="140" y="42.50" text-anchor="end" font-family="'Liberation Serif', 'Times New Roman', serif" font-weight="bold" font-size="32">1.5</text><text transform="translate(152.20 651.6) scale(1 1.11)" text-anchor="middle" font-family="'Liberation Serif', 'Times New Roman', serif" font-weight="bold" font-size="32">0</text><text transform="translate(309.85 651.6) scale(1 1.11)" text-anchor="middle" font-family="'Liberation Serif', 'Times New Roman', serif" font-weight="bold" font-size="32">100</text><text transform="translate(467.50 651.6) scale(1 1.11)" text-anchor="middle" font-family="'Liberation Serif', 'Times New Roman', serif" font-weight="bold" font-size="32">200</text><text transform="translate(625.15 651.6) scale(1 1.11)" text-anchor="middle" font-family="'Liberation Serif', 'Times New Roman', serif" font-weight="bold" font-size="32">300</text><text transform="translate(782.80 651.6) scale(1 1.11)" text-anchor="middle" font-family="'Liberation Serif', 'Times New Roman', serif" font-weight="bold" font-size="32">400</text><text transform="translate(940.45 651.6) scale(1 1.11)" text-anchor="middle" font-family="'Liberation Serif', 'Times New Roman', serif" font-weight="bold" font-size="32">500</text><text transform="translate(1098.10 651.6) scale(1 1.11)" text-anchor="middle" font-family="'Liberation Serif', 'Times New Roman', serif" font-weight="bold" font-size="32">600</text><text transform="translate(1255.75 651.6) scale(1 1.11)" text-anchor="middle" font-family="'Liberation Serif', 'Times New Roman', serif" font-weight="bold" font-size="32">700</text><text transform="translate(1413.40 651.6) scale(1 1.11)" text-anchor="middle" font-family="'Liberation Serif', 'Times New Roman', serif" font-weight="bold" font-size="32">800</text><text transform="translate(1571.05 651.6) scale(1 1.11)" text-anchor="middle" font-family="'Liberation Serif', 'Times New Roman', serif" font-weight="bold" font-size="32">900</text><text transform="translate(1728.70 651.6) scale(1 1.11)" text-anchor="middle" font-family="'Liberation Serif', 'Times New Roman', serif" font-weight="bold" font-size="32">1000</text><text x="939.6" y="692.5" text-anchor="middle" font-family="'Liberation Serif', 'Times New Roman', serif" font-weight="bold" font-size="35">Time (s)</text><text transform="translate(48.6 319) rotate(-90)" x="0" y="0" text-anchor="middle" font-family="'Liberation Serif', 'Times New Roman', serif" font-weight="bold" font-size="35">Stator Flux (wb)</text><rect x="215.10" y="42.80" width="558.55" height="145.70" fill="#ffffff"/><path d="M326.81 42.80V188.50M438.52 42.80V188.50M550.23 42.80V188.50M661.94 42.80V188.50M215.10 127.79H773.65M215.10 67.08H773.65" stroke="#ebebeb" stroke-width="1.1" fill="none"/><path d="M215.10 188.50v-6M215.10 42.80v6M326.81 188.50v-6M326.81 42.80v6M438.52 188.50v-6M438.52 42.80v6M550.23 188.50v-6M550.23 42.80v6M661.94 188.50v-6M661.94 42.80v6M773.65 188.50v-6M773.65 42.80v6M215.10 188.50h6M773.65 188.50h-6M215.10 127.79h6M773.65 127.79h-6M215.10 67.08h6M773.65 67.08h-6" stroke="#5c5c5c" stroke-width="1.4" fill="none"/><rect x="215.10" y="42.80" width="558.55" height="145.70" stroke="#5c5c5c" stroke-width="1.6" fill="none"/><path d="M215.60 188.50 L215.60 176.50 L225.45 177.83 L235.30 178.92 L245.15 179.81 L255.00 180.54 L264.85 181.14 L274.70 181.63 L284.55 182.03 L294.40 182.35 L304.25 182.62 L314.10 182.84 L323.95 183.02 L333.80 183.17 L343.65 183.29 L353.50 183.39 L363.35 183.47 L373.20 183.54 L383.05 183.59 L392.90 183.63 L402.75 183.67 L412.60 183.70 L417.00 148.60 L421.32 151.64 L425.64 154.28 L429.96 156.57 L434.28 158.57 L438.60 160.30 L443.00 132.60 L447.74 135.85 L452.48 138.82 L457.22 141.53 L461.96 144.01 L466.70 146.28 L471.44 148.35 L476.18 150.24 L480.92 151.97 L485.66 153.55 L490.40 155.00 L492.60 140.40 L496.45 142.35 L500.30 143.98 L504.15 145.35 L508.00 146.50 L510.90 128.90 L514.38 131.29 L517.85 133.30 L521.32 134.99 L524.80 136.40 L526.80 117.10 L529.60 119.21 L532.40 120.88 L535.20 122.20 L537.20 107.10 L538.90 106.20 L540.60 92.80 L541.90 90.30 L544.00 77.70 L545.60 76.00 L547.00 63.50 L548.20 61.80 L549.70 52.60 L554.09 84.71 L558.48 54.21 L562.85 84.38 L567.22 54.55 L571.57 83.74 L575.92 52.28 L580.25 85.27 L584.59 56.03 L588.90 84.65 L593.21 52.77 L597.50 82.81 L601.80 53.81 L606.07 83.21 L610.34 53.84 L614.60 83.70 L618.85 52.49 L623.09 83.71 L627.32 56.24 L631.54 83.99 L635.76 55.39 L639.95 83.62 L644.15 52.28 L648.33 83.40 L652.51 54.47 L656.67 84.55 L660.83 52.23 L664.97 83.14 L669.12 53.83 L673.24 83.50 L677.36 56.32 L681.47 83.51 L685.57 56.62 L689.66 84.31 L693.75 55.78 L697.81 84.19 L701.88 56.72 L705.93 83.10 L709.98 52.35 L714.02 84.96 L718.05 52.71 L722.06 82.89 L726.08 53.64 L730.07 83.73 L734.07 53.03 L738.05 84.03 L742.03 53.40 L745.99 84.42 L749.95 54.44 L753.89 83.84 L757.83 56.50 L761.76 83.60 L765.68 56.68 L769.59 83.16 L773.50 57.13" stroke="#0676c4" stroke-width="3.0" stroke-linejoin="round" fill="none"/><path d="M215.10 67.08H773.65" stroke="#ff0a20" stroke-opacity="0.82" stroke-width="2.7" stroke-dasharray="11.8 12.04" fill="none"/><text x="215.10" y="218.90" text-anchor="middle" font-family="'Liberation Serif', 'Times New Roman', serif" font-weight="bold" font-size="24">0</text><text x="326.81" y="218.90" text-anchor="middle" font-family="'Liberation Serif', 'Times New Roman', serif" font-weight="bold" font-size="24">0.05</text><text x="438.52" y="218.90" text-anchor="middle" font-family="'Liberation Serif', 'Times New Roman', serif" font-weight="bold" font-size="24">0.1</text><text x="550.23" y="218.90" text-anchor="middle" font-family="'Liberation Serif', 'Times New Roman', serif" font-weight="bold" font-size="24">0.15</text><text x="661.94" y="218.90" text-anchor="middle" font-family="'Liberation Serif', 'Times New Roman', serif" font-weight="bold" font-size="24">0.2</text><text x="773.65" y="218.90" text-anchor="middle" font-family="'Liberation Serif', 'Times New Roman', serif" font-weight="bold" font-size="24">0.25</text><text x="205.60" y="196.78" text-anchor="end" font-family="'Liberation Serif', 'Times New Roman', serif" font-weight="bold" font-size="24">0</text><text x="205.60" y="136.07" text-anchor="end" font-family="'Liberation Serif', 'Times New Roman', serif" font-weight="bold" font-size="24">0.5</text><text x="205.60" y="75.36" text-anchor="end" font-family="'Liberation Serif', 'Times New Roman', serif" font-weight="bold" font-size="24">1</text><rect x="1097.00" y="46.00" width="558.75" height="145.20" fill="#ffffff"/><path d="M1208.75 46.00V191.20M1320.50 46.00V191.20M1432.25 46.00V191.20M1544.00 46.00V191.20M1097.00 118.60H1655.75" stroke="#ebebeb" stroke-width="1.1" fill="none"/><path d="M1097.00 191.20v-6M1097.00 46.00v6M1208.75 191.20v-6M1208.75 46.00v6M1320.50 191.20v-6M1320.50 46.00v6M1432.25 191.20v-6M1432.25 46.00v6M1544.00 191.20v-6M1544.00 46.00v6M1655.75 191.20v-6M1655.75 46.00v6M1097.00 191.20h6M1655.75 191.20h-6M1097.00 118.60h6M1655.75 118.60h-6M1097.00 46.00h6M1655.75 46.00h-6" stroke="#5c5c5c" stroke-width="1.4" fill="none"/><rect x="1097.00" y="46.00" width="558.75" height="145.20" stroke="#5c5c5c" stroke-width="1.6" fill="none"/><path d="M1097.00 152.00 L1099.00 168.04 L1101.00 68.57 L1103.00 165.55 L1105.00 74.94 L1107.00 165.45 L1109.00 72.74 L1111.00 163.73 L1113.00 71.18 L1115.00 165.33 L1117.00 76.39 L1119.00 160.10 L1121.00 72.63 L1123.00 163.93 L1125.00 73.54 L1127.00 156.40 L1129.00 79.77 L1131.00 164.19 L1133.00 83.04 L1135.00 160.63 L1137.00 80.62 L1139.00 154.92 L1141.00 76.55 L1143.00 155.12 L1145.00 80.14 L1147.00 156.68 L1149.00 77.21 L1151.00 158.71 L1153.00 75.73 L1155.00 162.25 L1157.00 79.25 L1159.00 160.68 L1161.00 79.63 L1163.00 161.24 L1165.00 79.00 L1167.00 158.24 L1169.00 78.01 L1171.00 165.27 L1173.00 82.14 L1175.00 163.35 L1177.00 79.86 L1179.00 159.82 L1181.00 74.13 L1183.00 159.25 L1185.00 72.77 L1187.00 163.21 L1189.00 75.79 L1191.00 164.19 L1193.00 75.08 L1195.00 169.65 L1195.10 68.50 L1200.01 107.00 L1202.59 109.50 L1205.16 151.00 L1206.80 68.63 L1208.80 167.23 L1210.80 72.69 L1212.80 164.95 L1214.80 75.43 L1216.80 165.84 L1218.80 68.81 L1220.80 161.57 L1222.80 76.50 L1224.80 161.21 L1226.80 71.48 L1228.80 164.22 L1230.80 80.43 L1232.80 158.89 L1234.80 73.75 L1236.80 156.59 L1238.80 74.41 L1240.80 157.13 L1242.80 81.34 L1244.80 159.14 L1246.80 79.74 L1248.80 161.39 L1250.80 76.83 L1252.80 160.39 L1254.80 76.55 L1256.80 158.29 L1258.80 76.54 L1260.80 156.95 L1262.80 77.38 L1264.80 161.88 L1266.80 84.04 L1268.80 162.85 L1270.80 77.73 L1272.80 158.78 L1274.80 76.45 L1276.80 161.46 L1278.80 81.66 L1280.80 165.14 L1282.80 74.15 L1284.80 159.22 L1286.80 74.32 L1288.80 160.61 L1290.80 78.38 L1292.80 159.17 L1294.80 72.98 L1296.80 164.71 L1298.80 69.89 L1300.80 165.96 L1302.80 69.86 L1304.80 165.89 L1305.50 70.42 L1308.23 107.00 L1309.66 109.50 L1311.09 151.00 L1312.00 69.45 L1314.00 170.80 L1316.00 69.67 L1318.00 162.76 L1320.00 68.25 L1322.00 167.55 L1324.00 76.32 L1326.00 160.86 L1328.00 71.73 L1330.00 166.69 L1332.00 77.33 L1334.00 165.96 L1336.00 73.51 L1338.00 162.11 L1340.00 80.62 L1342.00 156.99 L1344.00 77.27 L1346.00 164.20 L1348.00 74.50 L1350.00 161.46 L1352.00 76.84 L1354.00 162.22 L1356.00 77.41 L1358.00 157.24 L1360.00 80.73 L1362.00 160.99 L1364.00 77.07 L1366.00 156.58 L1368.00 76.09 L1370.00 162.32 L1372.00 80.35 L1374.00 157.40 L1376.00 80.54 L1378.00 157.05 L1380.00 82.83 L1382.00 158.08 L1384.00 74.15 L1386.00 156.75 L1388.00 77.30 L1390.00 160.17 L1392.00 74.04 L1394.00 158.79 L1396.00 76.64 L1398.00 166.47 L1400.00 73.65 L1402.00 165.31 L1404.00 77.99 L1406.00 165.73 L1408.00 74.00 L1410.00 162.02 L1411.00 68.54 L1414.57 107.00 L1416.44 109.50 L1418.31 151.00 L1419.50 70.73 L1421.50 171.66 L1423.50 70.81 L1425.50 167.13 L1427.50 66.76 L1429.50 166.81 L1431.50 72.41 L1433.50 168.22 L1435.50 72.26 L1437.50 163.23 L1439.50 71.24 L1441.50 165.60 L1443.50 78.25 L1445.50 163.12 L1447.50 79.18 L1449.50 164.40 L1451.50 80.49 L1453.50 161.80 L1455.50 77.20 L1457.50 163.04 L1459.50 82.70 L1461.50 161.99 L1463.50 78.77 L1465.50 159.80 L1467.50 83.08 L1469.50 157.97 L1471.50 81.09 L1473.50 159.98 L1475.50 80.74 L1477.50 160.34 L1479.50 76.11 L1481.50 162.70 L1483.50 84.08 L1485.50 158.56 L1487.50 81.32 L1489.50 160.69 L1491.50 80.87 L1493.50 163.50 L1495.50 77.59 L1497.50 163.29 L1499.50 73.62 L1501.50 162.63 L1503.50 72.25 L1505.50 160.07 L1507.50 75.30 L1509.50 163.34 L1511.50 76.13 L1513.50 168.13 L1515.50 74.11 L1517.50 161.05 L1519.50 69.46 L1521.00 68.91 L1524.36 107.00 L1526.12 109.50 L1527.88 151.00 L1529.00 68.51 L1531.00 168.94 L1533.00 72.65 L1535.00 169.39 L1537.00 70.60 L1539.00 166.16 L1541.00 71.11 L1543.00 163.00 L1545.00 71.31 L1547.00 166.42 L1549.00 77.98 L1551.00 160.83 L1553.00 79.71 L1555.00 159.49 L1557.00 77.98 L1559.00 160.49 L1561.00 74.76 L1563.00 163.14 L1565.00 81.74 L1567.00 163.64 L1569.00 81.14 L1571.00 156.30 L1573.00 77.63 L1575.00 157.06 L1577.00 79.44 L1579.00 158.23 L1581.00 77.42 L1583.00 158.98 L1585.00 81.09 L1587.00 162.22 L1589.00 78.12 L1591.00 158.99 L1593.00 83.79 L1595.00 155.56 L1597.00 75.16 L1599.00 156.12 L1601.00 81.74 L1603.00 161.45 L1605.00 79.53 L1607.00 164.11 L1609.00 75.06 L1611.00 158.99 L1613.00 71.45 L1615.00 158.86 L1617.00 74.23 L1619.00 161.76 L1621.00 76.33 L1623.00 161.16 L1625.00 68.70 L1627.00 166.07 L1627.00 69.76 L1631.41 107.00 L1633.72 109.50 L1636.03 151.00 L1637.50 69.97 L1639.50 171.63 L1641.50 71.77 L1643.50 159.47 L1645.50 77.55 L1647.50 156.62 L1649.50 79.12 L1651.50 158.89 L1653.50 75.42 L1655.50 158.22" stroke="#0676c4" stroke-width="2.65" stroke-linejoin="round" fill="none"/><path d="M1097.00 118.60H1655.75" stroke="#ff0a20" stroke-opacity="0.82" stroke-width="2.7" stroke-dasharray="11.8 12.04" fill="none"/><text x="1096.00" y="221.60" text-anchor="middle" font-family="'Liberation Serif', 'Times New Roman', serif" font-weight="bold" font-size="23">800</text><text x="1207.75" y="221.60" text-anchor="middle" font-family="'Liberation Serif', 'Times New Roman', serif" font-weight="bold" font-size="23">800.1</text><text x="1319.50" y="221.60" text-anchor="middle" font-family="'Liberation Serif', 'Times New Roman', serif" font-weight="bold" font-size="23">800.2</text><text x="1431.25" y="221.60" text-anchor="middle" font-family="'Liberation Serif', 'Times New Roman', serif" font-weight="bold" font-size="23">800.3</text><text x="1543.00" y="221.60" text-anchor="middle" font-family="'Liberation Serif', 'Times New Roman', serif" font-weight="bold" font-size="23">800.4</text><text x="1654.75" y="221.60" text-anchor="middle" font-family="'Liberation Serif', 'Times New Roman', serif" font-weight="bold" font-size="23">800.5</text><text x="1086.50" y="199.13" text-anchor="end" font-family="'Liberation Serif', 'Times New Roman', serif" font-weight="bold" font-size="23">0.8</text><text x="1086.50" y="126.53" text-anchor="end" font-family="'Liberation Serif', 'Times New Roman', serif" font-weight="bold" font-size="23">1</text><text x="1086.50" y="53.94" text-anchor="end" font-family="'Liberation Serif', 'Times New Roman', serif" font-weight="bold" font-size="23">1.2</text><path d="M151.55 270.15h5.7v5.7h-5.7zM163.55 270.15h5.7v5.7h-5.7zM173.15 273.35h5.7v5.7h-5.7zM156.65 601.65h5.7v5.7h-5.7zM168.55 601.65h5.7v5.7h-5.7zM146.55 277.05h5.7v5.7h-5.7zM146.55 288.98h5.7v5.7h-5.7zM146.55 300.91h5.7v5.7h-5.7zM146.55 312.84h5.7v5.7h-5.7zM146.55 324.77h5.7v5.7h-5.7zM146.55 336.70h5.7v5.7h-5.7zM146.55 348.63h5.7v5.7h-5.7zM146.55 360.56h5.7v5.7h-5.7zM146.55 372.49h5.7v5.7h-5.7zM146.55 384.42h5.7v5.7h-5.7zM146.55 396.35h5.7v5.7h-5.7zM146.55 408.28h5.7v5.7h-5.7zM146.55 420.21h5.7v5.7h-5.7zM146.55 432.14h5.7v5.7h-5.7zM146.55 444.07h5.7v5.7h-5.7zM146.55 456.00h5.7v5.7h-5.7zM146.55 467.93h5.7v5.7h-5.7zM146.55 479.86h5.7v5.7h-5.7zM146.55 491.79h5.7v5.7h-5.7zM146.55 503.72h5.7v5.7h-5.7zM146.55 515.65h5.7v5.7h-5.7zM146.55 527.58h5.7v5.7h-5.7zM146.55 539.51h5.7v5.7h-5.7zM146.55 551.44h5.7v5.7h-5.7zM146.55 563.37h5.7v5.7h-5.7zM146.55 575.30h5.7v5.7h-5.7zM146.55 587.23h5.7v5.7h-5.7zM146.55 599.16h5.7v5.7h-5.7zM172.95 283.95h5.7v5.7h-5.7zM172.95 295.88h5.7v5.7h-5.7zM172.95 307.81h5.7v5.7h-5.7zM172.95 319.74h5.7v5.7h-5.7zM172.95 331.67h5.7v5.7h-5.7zM172.95 343.60h5.7v5.7h-5.7zM172.95 355.53h5.7v5.7h-5.7zM172.95 367.46h5.7v5.7h-5.7zM172.95 379.39h5.7v5.7h-5.7zM172.95 391.32h5.7v5.7h-5.7zM172.95 403.25h5.7v5.7h-5.7zM172.95 415.18h5.7v5.7h-5.7zM172.95 427.11h5.7v5.7h-5.7zM172.95 439.04h5.7v5.7h-5.7zM172.95 450.97h5.7v5.7h-5.7zM172.95 462.90h5.7v5.7h-5.7zM172.95 474.83h5.7v5.7h-5.7zM172.95 486.76h5.7v5.7h-5.7zM172.95 498.69h5.7v5.7h-5.7zM172.95 510.62h5.7v5.7h-5.7zM172.95 522.55h5.7v5.7h-5.7zM172.95 534.48h5.7v5.7h-5.7zM172.95 546.41h5.7v5.7h-5.7zM172.95 558.34h5.7v5.7h-5.7zM172.95 570.27h5.7v5.7h-5.7zM172.95 582.20h5.7v5.7h-5.7zM172.95 594.13h5.7v5.7h-5.7z" fill="#ff5500"/><path d="M1396.55 280.25h5.5v5.5h-5.5zM1402.25 273.95h5.5v5.5h-5.5zM1414.25 273.95h5.5v5.5h-5.5zM1422.65 277.75h5.5v5.5h-5.5zM1404.05 532.85h5.5v5.5h-5.5zM1416.35 532.85h5.5v5.5h-5.5zM1396.65 292.25h5.5v5.5h-5.5zM1396.65 304.13h5.5v5.5h-5.5zM1396.65 316.01h5.5v5.5h-5.5zM1396.65 327.89h5.5v5.5h-5.5zM1396.65 339.77h5.5v5.5h-5.5zM1396.65 351.65h5.5v5.5h-5.5zM1396.65 363.53h5.5v5.5h-5.5zM1396.65 375.41h5.5v5.5h-5.5zM1396.65 387.29h5.5v5.5h-5.5zM1396.65 399.17h5.5v5.5h-5.5zM1396.65 411.05h5.5v5.5h-5.5zM1396.65 422.93h5.5v5.5h-5.5zM1396.65 434.81h5.5v5.5h-5.5zM1396.65 446.69h5.5v5.5h-5.5zM1396.65 458.57h5.5v5.5h-5.5zM1396.65 470.45h5.5v5.5h-5.5zM1396.65 482.33h5.5v5.5h-5.5zM1396.65 494.21h5.5v5.5h-5.5zM1396.65 506.09h5.5v5.5h-5.5zM1396.65 517.97h5.5v5.5h-5.5zM1396.65 529.85h5.5v5.5h-5.5zM1422.65 289.75h5.5v5.5h-5.5zM1422.65 301.62h5.5v5.5h-5.5zM1422.65 313.49h5.5v5.5h-5.5zM1422.65 325.36h5.5v5.5h-5.5zM1422.65 337.23h5.5v5.5h-5.5zM1422.65 349.10h5.5v5.5h-5.5zM1422.65 360.97h5.5v5.5h-5.5zM1422.65 372.84h5.5v5.5h-5.5zM1422.65 384.71h5.5v5.5h-5.5zM1422.65 396.58h5.5v5.5h-5.5zM1422.65 408.45h5.5v5.5h-5.5zM1422.65 420.32h5.5v5.5h-5.5zM1422.65 432.19h5.5v5.5h-5.5zM1422.65 444.06h5.5v5.5h-5.5zM1422.65 455.93h5.5v5.5h-5.5zM1422.65 467.80h5.5v5.5h-5.5zM1422.65 479.67h5.5v5.5h-5.5zM1422.65 491.54h5.5v5.5h-5.5zM1422.65 503.41h5.5v5.5h-5.5zM1422.65 515.28h5.5v5.5h-5.5zM1422.65 527.15h5.5v5.5h-5.5z" fill="#ff5500"/><path d="M178.90 274.30L232.32 227.77" stroke="#ff5500" stroke-width="5" fill="none"/><path d="M242.50 218.90L232.66 237.29L230.81 229.08L222.94 226.13Z" fill="#ff5500"/><path d="M1413.80 276.00L1413.80 240.20" stroke="#ff5500" stroke-width="5" fill="none"/><path d="M1413.80 225.90L1421.80 246.20L1413.80 242.20L1405.80 246.20Z" fill="#ff5500"/><rect x="1172.6" y="605.6" width="515.5" height="3.8" fill="#ababab"/><rect x="1172.6" y="567.5" width="515.5" height="38" fill="#ffffff" stroke="#5c5c5c" stroke-width="1.6"/><path d="M1187.6 587H1247.1" stroke="#0a80c8" stroke-width="3.1" fill="none"/><text transform="translate(1250.6 596.4) scale(1 0.91)" font-family="'Liberation Serif', 'Times New Roman', serif" font-weight="bold" font-size="28.6">Stator Flux</text><path d="M1403 586.8H1463" stroke="#ff0a20" stroke-opacity="0.75" stroke-width="3" stroke-dasharray="12 12" fill="none"/><text transform="translate(1466.8 596.4) scale(1 0.91)" font-family="'Liberation Serif', 'Times New Roman', serif" font-weight="bold" font-size="28.6">Ref.Stator Flux</text></svg></body></html>
